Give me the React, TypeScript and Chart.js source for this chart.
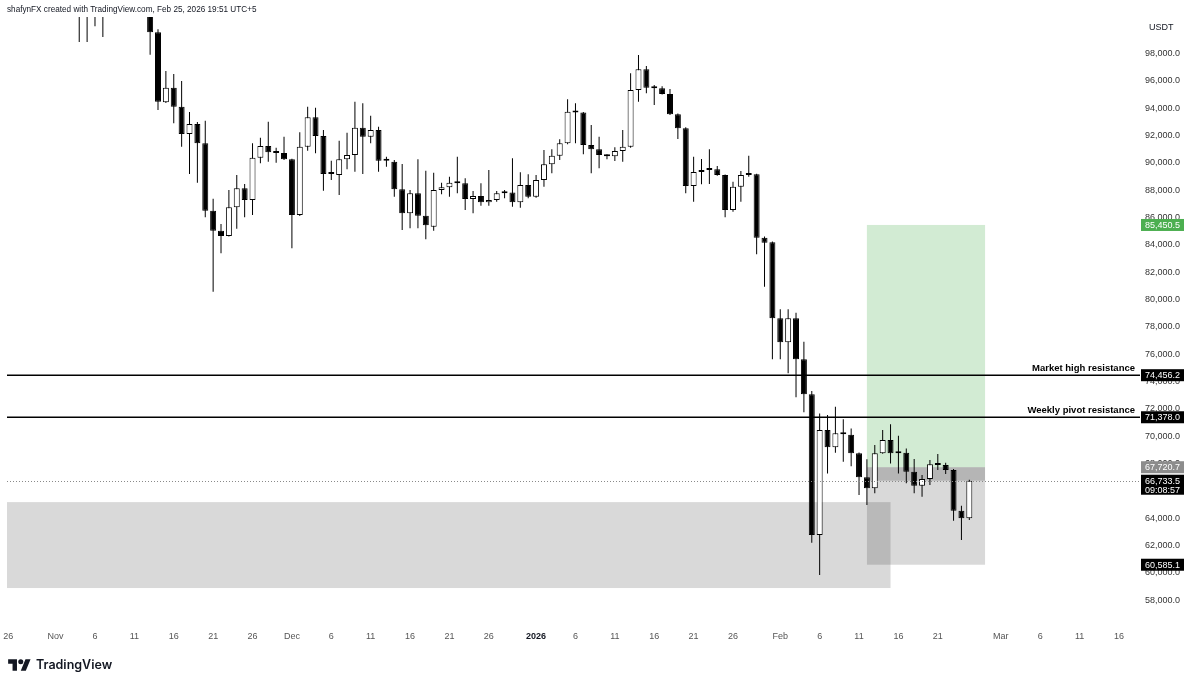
import React, { useEffect, useRef } from 'react';
import { Chart, registerables } from 'chart.js';
Chart.register(...registerables);

const FONT = '"Liberation Sans", Arial, Helvetica, sans-serif';

// ---------- DATA ----------
const candleDates = [
  '2025-11-04','2025-11-05','2025-11-06','2025-11-07','2025-11-08','2025-11-09','2025-11-10','2025-11-11','2025-11-12','2025-11-13',
  '2025-11-14','2025-11-15','2025-11-16','2025-11-17','2025-11-18','2025-11-19','2025-11-20','2025-11-21','2025-11-22','2025-11-23',
  '2025-11-24','2025-11-25','2025-11-26','2025-11-27','2025-11-28','2025-11-29','2025-11-30',
  '2025-12-01','2025-12-02','2025-12-03','2025-12-04','2025-12-05','2025-12-06','2025-12-07','2025-12-08','2025-12-09','2025-12-10',
  '2025-12-11','2025-12-12','2025-12-13','2025-12-14','2025-12-15','2025-12-16','2025-12-17','2025-12-18','2025-12-19','2025-12-20',
  '2025-12-21','2025-12-22','2025-12-23','2025-12-24','2025-12-25','2025-12-26','2025-12-27','2025-12-28','2025-12-29','2025-12-30','2025-12-31',
  '2026-01-01','2026-01-02','2026-01-03','2026-01-04','2026-01-05','2026-01-06','2026-01-07','2026-01-08','2026-01-09','2026-01-10',
  '2026-01-11','2026-01-12','2026-01-13','2026-01-14','2026-01-15','2026-01-16','2026-01-17','2026-01-18','2026-01-19','2026-01-20',
  '2026-01-21','2026-01-22','2026-01-23','2026-01-24','2026-01-25','2026-01-26','2026-01-27','2026-01-28','2026-01-29','2026-01-30','2026-01-31',
  '2026-02-01','2026-02-02','2026-02-03','2026-02-04','2026-02-05','2026-02-06','2026-02-07','2026-02-08','2026-02-09','2026-02-10',
  '2026-02-11','2026-02-12','2026-02-13','2026-02-14','2026-02-15','2026-02-16','2026-02-17','2026-02-18','2026-02-19','2026-02-20',
  '2026-02-21','2026-02-22','2026-02-23','2026-02-24','2026-02-25',
];

const opens = [
  106500,101500,103900,101300,103350,102300,104700,106000,103050,101650,
  99550,94430,95500,94100,92110,92840,91430,86490,85030,84640,
  86740,88130,87280,90370,91230,90770,90720,
  90260,86180,91180,93330,91960,89180,89110,90260,90570,92570,
  91910,92400,90150,90080,88060,86300,87770,86130,85320,88010,
  88210,88540,88500,87350,87570,87110,87280,87770,87830,87110,88370,
  87520,88740,89890,90520,91430,93740,93680,91300,90990,90570,
  90480,90860,91180,95330,96840,95500,95450,95040,93550,92530,
  88300,89330,89470,89520,89110,86550,88250,89110,89160,84520,84180,
  78620,76860,78620,75620,73060,62760,70440,69180,70200,70100,
  68740,66980,66180,68740,69710,68740,68780,67390,66370,66860,
  67930,67880,67520,64540,63980,
];
const highs = [
  106600,104500,104200,104000,103500,105000,106600,107500,105300,104000,
  99770,96720,96500,95990,93720,92990,93080,87370,85520,88010,
  89110,88450,91430,91840,93010,91110,91910,
  90300,92230,94110,94030,92400,90150,91620,92200,94470,94360,
  93450,92640,90450,90200,89910,88010,90260,89420,89280,88540,
  88980,90450,88870,87940,88500,89470,87940,88010,90330,89300,89160,
  89110,90940,90990,91720,94650,94360,93720,92770,91910,90620,
  91130,92400,96550,97890,97090,95690,95600,95400,93600,92600,
  90450,90280,91000,89770,89150,88620,89400,90520,89200,84600,84250,
  79280,79280,79030,76900,73300,71660,71540,72150,71230,70560,
  68800,68300,69350,70440,70860,70030,69100,68320,67150,68250,
  68690,68050,67600,64900,66800,
];
const lows = [
  98850,98850,100000,99200,101450,101300,104300,102500,100800,97900,
  93860,94380,92890,91180,89180,88540,86010,80560,83380,84600,
  85180,86010,86180,89960,90080,90010,90200,
  83740,86100,90890,90700,87960,88740,87640,89520,89350,89180,
  91430,89350,89720,87520,85080,85210,85210,84400,85030,87690,
  87520,87770,86550,86300,86860,86860,87150,87400,86790,86710,87400,
  87450,88250,89230,90200,91350,91430,90620,89230,89600,90260,
  90130,90080,91100,94470,95090,94230,95000,93500,91740,87770,
  87150,88430,88450,89050,86010,86420,87150,88980,83300,80930,75620,
  75620,74590,72840,71740,62190,59830,67270,68780,68120,67800,
  65690,64950,65810,68700,68000,67270,66540,65810,65560,66420,
  67520,67220,63800,62390,63850,
];
const closes = [
  101500,103900,101300,103350,102300,104700,106000,103050,101650,99550,
  94470,95500,94100,92110,92840,91430,86490,85030,84640,86740,
  88130,87280,90370,91230,90770,90720,90260,
  86180,91180,93330,91960,89180,89250,90260,90570,92570,91910,
  92400,90150,90220,88060,86300,87770,86130,85430,88010,88210,
  88540,88500,87350,87570,87110,87280,87770,87830,87110,88370,87520,
  88740,89890,90520,91430,93740,93680,91300,90990,90570,90480,
  90860,91180,95330,96840,95500,95450,95040,93550,92530,88300,
  89330,89470,89520,89110,86550,88250,89110,89160,84520,84150,78620,
  76860,78620,75620,73060,62760,70440,69180,70200,70130,68740,
  66980,66180,68740,69710,68740,68780,67390,66370,66860,67930,
  67880,67520,64540,63980,66733.5,
];

const xTickDates = [
  '2025-10-26','2025-11-01','2025-11-06','2025-11-11','2025-11-16','2025-11-21','2025-11-26',
  '2025-12-01','2025-12-06','2025-12-11','2025-12-16','2025-12-21','2025-12-26',
  '2026-01-01','2026-01-06','2026-01-11','2026-01-16','2026-01-21','2026-01-26',
  '2026-02-01','2026-02-06','2026-02-11','2026-02-16','2026-02-21',
  '2026-03-01','2026-03-06','2026-03-11','2026-03-16',
];
const xTickLabels = [
  '26','Nov','6','11','16','21','26',
  'Dec','6','11','16','21','26',
  '2026','6','11','16','21','26',
  'Feb','6','11','16','21',
  'Mar','6','11','16',
];
const yTickValues = [58000,60000,62000,64000,66000,68000,70000,72000,74000,76000,78000,80000,82000,84000,86000,88000,90000,92000,94000,96000,98000];

const levelPrices = [74456.2, 71378.0];
const levelNames = ['Market high resistance', 'Weekly pivot resistance'];

const targetPrice = 85450.5;
const entryPrice = 67720.7;
const stopPrice = 60585.1;
const lastPrice = 66733.5;
const countdown = '09:08:57';
const positionStart = '2026-02-12';
const positionEnd = '2026-02-27';

const zoneTop = 65170;
const zoneBottom = 58880;
const zoneStart = '2025-10-01';
const zoneEnd = '2026-02-15';

// ---------- HELPERS ----------
const BASE = Date.UTC(2025, 10, 1);
const dayIndex = (s: string) => {
  const [yy, mm, dd] = s.split('-').map(Number);
  return (Date.UTC(yy, mm - 1, dd) - BASE) / 86400000;
};
const fmt = (v: number) => v.toLocaleString('en-US', { minimumFractionDigits: 1, maximumFractionDigits: 1 });
const yearTick = dayIndex('2026-01-01');

const overlayPlugin = {
  id: 'tvOverlay',
  beforeDatasetsDraw(chart: any) {
    const { ctx, chartArea: a, scales } = chart;
    const x = scales.x, y = scales.y;
    ctx.save();
    ctx.beginPath();
    ctx.rect(a.left, a.top, a.right - a.left, a.bottom - a.top);
    ctx.clip();
    const rect = (d0: string, d1: string, p0: number, p1: number, color: string) => {
      const x0 = x.getPixelForValue(dayIndex(d0));
      const x1 = x.getPixelForValue(dayIndex(d1));
      const y0 = y.getPixelForValue(p0);
      const y1 = y.getPixelForValue(p1);
      ctx.fillStyle = color;
      ctx.fillRect(Math.min(x0, x1), Math.min(y0, y1), Math.abs(x1 - x0), Math.abs(y1 - y0));
    };
    rect(zoneStart, zoneEnd, zoneTop, zoneBottom, 'rgba(0,0,0,0.15)');
    rect(positionStart, positionEnd, targetPrice, entryPrice, 'rgba(76,175,80,0.25)');
    rect(positionStart, positionEnd, entryPrice, stopPrice, 'rgba(0,0,0,0.15)');
    rect(positionStart, positionEnd, entryPrice, lastPrice, 'rgba(0,0,0,0.17)');
    ctx.restore();
  },
  afterDatasetsDraw(chart: any) {
    const { ctx, chartArea: a, scales } = chart;
    const y = scales.y;
    ctx.save();
    ctx.beginPath();
    ctx.rect(a.left, a.top, a.right - a.left, a.bottom - a.top);
    ctx.clip();
    // last price dotted line
    const yl = Math.round(y.getPixelForValue(lastPrice)) + 0.5;
    ctx.strokeStyle = '#8a8a8a';
    ctx.lineWidth = 1;
    ctx.setLineDash([1, 2]);
    ctx.beginPath();
    ctx.moveTo(a.left, yl);
    ctx.lineTo(a.right, yl);
    ctx.stroke();
    ctx.setLineDash([]);
    // resistance lines
    levelPrices.forEach((p, i) => {
      const yy = y.getPixelForValue(p);
      ctx.strokeStyle = '#000';
      ctx.lineWidth = 1.5;
      ctx.beginPath();
      ctx.moveTo(a.left, yy);
      ctx.lineTo(a.right, yy);
      ctx.stroke();
      ctx.fillStyle = '#000';
      ctx.font = `bold 9.5px ${FONT}`;
      ctx.textAlign = 'right';
      ctx.textBaseline = 'alphabetic';
      ctx.fillText(levelNames[i], a.right - 5, yy - 4);
    });
    ctx.restore();
  },
  afterDraw(chart: any) {
    const { ctx, chartArea: a, scales } = chart;
    const y = scales.y;
    ctx.save();
    ctx.font = `9px ${FONT}`;
    ctx.textBaseline = 'middle';
    ctx.textAlign = 'left';
    ctx.fillStyle = '#131722';
    ctx.fillText('USDT', a.right + 9, 28);
    const tag = (price: number, text: string, bg: string, fg: string, second?: string) => {
      const yy = y.getPixelForValue(price);
      const bx = a.right + 1;
      const bw = 43;
      ctx.fillStyle = bg;
      if (second) {
        ctx.fillRect(bx, yy - 6, bw, 20);
      } else {
        ctx.fillRect(bx, yy - 6, bw, 12);
      }
      ctx.fillStyle = fg;
      ctx.font = `9px ${FONT}`;
      ctx.textAlign = 'left';
      ctx.textBaseline = 'middle';
      ctx.fillText(text, a.right + 5, yy + 0.5);
      if (second) ctx.fillText(second, a.right + 5, yy + 9.5);
    };
    tag(targetPrice, fmt(targetPrice), '#4caf50', '#ffffff');
    tag(levelPrices[0], fmt(levelPrices[0]), '#000000', '#ffffff');
    tag(levelPrices[1], fmt(levelPrices[1]), '#000000', '#ffffff');
    tag(entryPrice, fmt(entryPrice), '#8c8c8c', '#ffffff');
    tag(lastPrice, fmt(lastPrice), '#000000', '#ffffff', countdown);
    tag(stopPrice, fmt(stopPrice), '#000000', '#ffffff');
    ctx.restore();
  },
};

export default function App() {
  const ref = useRef<HTMLCanvasElement | null>(null);

  useEffect(() => {
    if (!ref.current) return;
    const xs = candleDates.map(dayIndex);
    const bodyData = xs.map((xv, i) => ({ x: xv, y: [opens[i], closes[i]] }));
    const wickData = xs.map((xv, i) => ({ x: xv, y: [lows[i], highs[i]] }));
    const bodyColors = closes.map((c, i) => (c >= opens[i] ? '#ffffff' : '#000000'));

    const chart = new Chart(ref.current, {
      type: 'bar',
      data: {
        datasets: [
          {
            label: 'body',
            data: bodyData as any,
            backgroundColor: bodyColors,
            borderColor: '#000000',
            borderWidth: 1,
            borderSkipped: false,
            grouped: false,
            categoryPercentage: 1,
            barPercentage: 1,
            maxBarThickness: 6,
            minBarLength: 2,
            inflateAmount: 0,
            order: 1,
          } as any,
          {
            label: 'wick',
            data: wickData as any,
            backgroundColor: '#000000',
            borderWidth: 0,
            grouped: false,
            categoryPercentage: 1,
            barPercentage: 1,
            maxBarThickness: 1,
            inflateAmount: 0,
            order: 2,
          } as any,
        ],
      },
      options: {
        responsive: false,
        animation: false,
        devicePixelRatio: 1,
        events: [],
        layout: { padding: { left: 7, top: 17, right: 0, bottom: 0 } },
        plugins: { legend: { display: false }, tooltip: { enabled: false } },
        scales: {
          x: {
            type: 'linear',
            min: -6.17,
            max: 137.67,
            offset: false,
            grid: { display: false, drawTicks: false },
            border: { display: false },
            afterBuildTicks: (s: any) => {
              s.ticks = xTickDates.map((d) => ({ value: dayIndex(d) }));
            },
            afterFit: (s: any) => {
              s.height = 63;
              s.paddingLeft = 0;
              s.paddingRight = 0;
            },
            ticks: {
              autoSkip: false,
              maxRotation: 0,
              minRotation: 0,
              padding: 9,
              callback: (_v: any, i: number) => xTickLabels[i],
              font: (c: any) => ({
                family: FONT,
                size: 9,
                weight: c.tick && c.tick.value === yearTick ? 'bold' : 'normal',
              }),
              color: (c: any) => (c.tick && c.tick.value === yearTick ? '#131722' : '#555555'),
            },
          } as any,
          y: {
            type: 'linear',
            position: 'right',
            min: 56394,
            max: 100671,
            grid: { display: false, drawTicks: false },
            border: { display: false },
            afterBuildTicks: (s: any) => {
              s.ticks = yTickValues.map((v) => ({ value: v }));
            },
            afterFit: (s: any) => {
              s.width = 59;
              s.paddingTop = 0;
              s.paddingBottom = 0;
            },
            ticks: {
              padding: 5,
              callback: (v: any) => fmt(Number(v)),
              font: { family: FONT, size: 9 },
              color: '#333333',
            },
          } as any,
        },
      },
      plugins: [overlayPlugin],
    });
    return () => chart.destroy();
  }, []);

  return (
    <div style={{ position: 'absolute', left: 0, top: 0, width: 1199, height: 685, background: '#ffffff', overflow: 'hidden' }}>
      <canvas ref={ref} width={1199} height={685} style={{ display: 'block', width: 1199, height: 685 }} />
      <div
        style={{
          position: 'absolute',
          left: 7,
          top: 5,
          font: `8.2px ${FONT}`,
          lineHeight: '10px',
          color: '#131722',
          whiteSpace: 'nowrap',
        }}
      >
        shafynFX created with TradingView.com, Feb 25, 2026 19:51 UTC+5
      </div>
      <div style={{ position: 'absolute', left: 8, top: 657, display: 'flex', alignItems: 'center', height: 16 }}>
        <svg width="23" height="12" viewBox="0 3.5 36 19" style={{ display: 'block' }}>
          <path d="M14 22H7V11H0V4h14v18zM28 22h-8l7.5-18h8L28 22z" fill="#131722" />
          <circle cx="20" cy="8" r="4" fill="#131722" />
        </svg>
        <span style={{ marginLeft: 5, font: `600 12.5px Inter, ${FONT}`, color: '#131722', lineHeight: '16px' }}>TradingView</span>
      </div>
    </div>
  );
}
